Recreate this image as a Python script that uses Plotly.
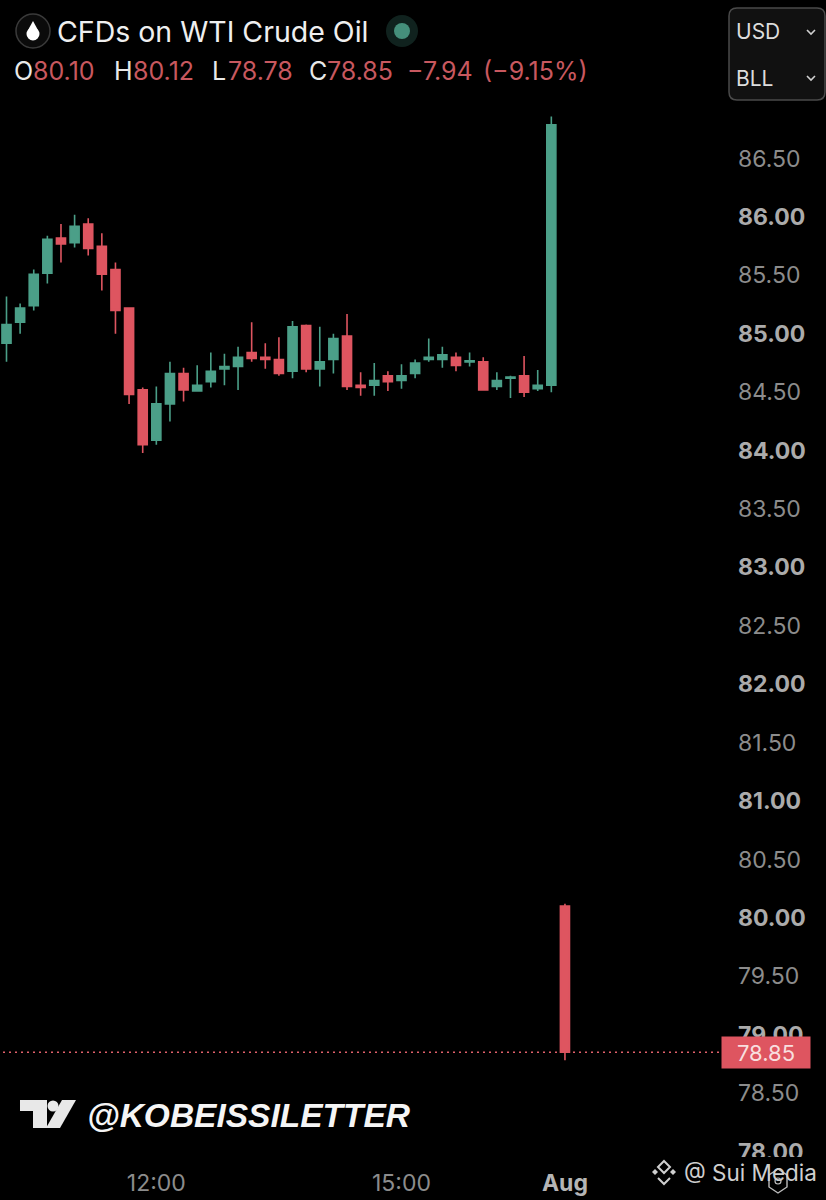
import plotly.graph_objects as go

W, H = 826, 1200
PLOT_R, PLOT_B = 722, 1165

idx = list(range(42))
opens = [84.92,85.10,85.24,85.52,85.82,85.78,85.94,85.75,85.55,85.22,84.52,84.09,84.40,84.66,84.51,84.59,84.70,84.72,84.84,84.80,84.78,84.68,85.07,84.70,84.78,84.98,84.56,84.56,84.64,84.60,84.66,84.78,84.78,84.80,84.76,84.76,84.55,84.62,84.64,84.53,84.56,80.10]
highs = [85.32,85.26,85.55,85.84,85.94,86.02,85.99,85.86,85.61,85.22,84.54,84.55,84.76,84.71,84.73,84.84,84.83,84.89,85.10,84.92,84.97,85.11,85.08,85.06,85.00,85.17,84.67,84.75,84.68,84.74,84.78,84.96,84.89,84.84,84.84,84.80,84.67,84.64,84.81,84.69,86.86,80.12]
lows = [84.76,85.00,85.20,85.43,85.61,85.74,85.67,85.37,85.00,84.40,83.98,84.05,84.25,84.42,84.51,84.54,84.56,84.52,84.76,84.70,84.64,84.62,84.67,84.55,84.66,84.52,84.47,84.47,84.51,84.53,84.62,84.76,84.71,84.68,84.72,84.52,84.52,84.45,84.46,84.51,84.50,78.78]
closes = [85.08,85.22,85.51,85.81,85.77,85.92,85.73,85.51,85.20,84.48,84.05,84.40,84.66,84.52,84.56,84.68,84.72,84.80,84.79,84.78,84.66,85.06,84.70,84.76,84.96,84.55,84.54,84.60,84.59,84.64,84.75,84.80,84.82,84.73,84.77,84.52,84.60,84.63,84.50,84.56,86.79,78.85]

price_ticks = [86.5,86,85.5,85,84.5,84,83.5,83,82.5,82,81.5,81,80.5,80,79.5,79,78.5,78]
time_ticks = [11, 29, 41]
time_labels = ["12:00", "15:00", '<b><span style="color:#b5b5b5">Aug</span></b>']
last_price = 78.85

GREEN, RED = "#4b9f88", "#de5560"
HEADER_RED = "#c8585f"
AXIS_GREY, AXIS_BOLD = "#8c8c8c", "#ababab"
FONT = "Inter, 'Liberation Sans', sans-serif"

def px(x): return x / PLOT_R
def py(y): return 1 - y / PLOT_B

def label(x, y, text, size, color, anchor="left", font=FONT, **kw):
    return dict(x=px(x), y=py(y), xref="paper", yref="paper", text=text, showarrow=False,
                xanchor=anchor, yanchor="middle", font=dict(size=size, color=color, family=font), **kw)

def circle(cx, cy, r, fill, line="rgba(0,0,0,0)", lw=0):
    return dict(type="circle", xref="paper", yref="paper", x0=px(cx-r), x1=px(cx+r), y0=py(cy+r), y1=py(cy-r),
                fillcolor=fill, line=dict(color=line, width=lw), layer="above")

def path(points, fill=None, line=None, lw=0, close=True):
    d = "M " + " L ".join(f"{px(a):.5f},{py(b):.5f}" for a, b in points) + (" Z" if close else "")
    return dict(type="path", xref="paper", yref="paper", path=d, fillcolor=fill or "rgba(0,0,0,0)",
                line=dict(color=line or "rgba(0,0,0,0)", width=lw), layer="above")

def rect(x0, y0, x1, y1, fill):
    return dict(type="rect", xref="paper", yref="paper", x0=px(x0), x1=px(x1), y0=py(y1), y1=py(y0),
                fillcolor=fill, line=dict(width=0), layer="above")

def rounded(x0, y0, x1, y1, r, fill, line, lw):
    def p(a, b): return f"{px(a):.5f},{py(b):.5f}"
    d = (f"M {p(x0+r,y0)} L {p(x1-r,y0)} Q {p(x1,y0)} {p(x1,y0+r)} L {p(x1,y1-r)} Q {p(x1,y1)} {p(x1-r,y1)} "
         f"L {p(x0+r,y1)} Q {p(x0,y1)} {p(x0,y1-r)} L {p(x0,y0+r)} Q {p(x0,y0)} {p(x0+r,y0)} Z")
    return dict(type="path", xref="paper", yref="paper", path=d, fillcolor=fill,
                line=dict(color=line, width=lw), layer="above")

fig = go.Figure(go.Candlestick(
    x=idx, open=opens, high=highs, low=lows, close=closes, whiskerwidth=0,
    increasing=dict(line=dict(color=GREEN, width=1.6), fillcolor=GREEN),
    decreasing=dict(line=dict(color=RED, width=1.6), fillcolor=RED),
    showlegend=False, hoverinfo="skip"))

def tick_text(v):
    if float(v).is_integer():
        return f'<b><span style="color:{AXIS_BOLD}">{v:.2f}</span></b>'
    return f"{v:.2f}"

shapes = [
    dict(type="line", xref="paper", yref="y", x0=px(3), x1=1, y0=last_price, y1=last_price,
         line=dict(color="#e0606a", width=1.5, dash="2px,4px"), layer="below"),
    rect(722, 1157, 826, 1166, "#000000"),
    # drop icon
    circle(33, 31, 17, "#0b0b0b", "#3a3a3a", 1.5),
    circle(33, 34, 6.5, "#ffffff"),
    path([(33, 21), (27.5, 31), (38.5, 31)], fill="#ffffff"),
    # status dot
    circle(402, 31, 16, "#10221e"),
    circle(402, 31, 8, "#458f7b"),
    # currency / unit box
    rounded(729, 8, 825, 100, 8, "#111111", "#4a4a4a", 1.5),
    path([(807, 30), (811, 34), (815, 30)], line="#d0d0d0", lw=1.6, close=False),
    path([(807, 76), (811, 80), (815, 76)], line="#d0d0d0", lw=1.6, close=False),
    # chart-brand logo
    path([(20, 1100), (47, 1100), (47, 1128), (33, 1128), (33, 1111), (20, 1111)], fill="#e8e8e8"),
    circle(53, 1106, 5.5, "#e8e8e8"),
    path([(62, 1100), (76, 1100), (60, 1128), (46, 1128)], fill="#e8e8e8"),
    # media-mark
    path([(664, 1161), (670, 1167), (664, 1173), (658, 1167)], line="#cfcfcf", lw=2),
    path([(652, 1172), (655, 1169), (658, 1172), (655, 1175)], fill="#cfcfcf"),
    path([(670, 1172), (673, 1169), (676, 1172), (673, 1175)], fill="#cfcfcf"),
    path([(658, 1178), (664, 1184), (670, 1178)], line="#cfcfcf", lw=2, close=False),
    path([(778, 1169), (787, 1175), (787, 1187), (778, 1193), (769, 1187), (769, 1175)], line="#bdbdbd", lw=1.4),
    circle(778, 1181, 3, "rgba(0,0,0,0)", "#bdbdbd", 1.2),
]

header = [(12,"O","#e8e8e8"),(31,"80.10",HEADER_RED),(112,"H","#e8e8e8"),(131,"80.12",HEADER_RED),(210,"L","#e8e8e8"),
          (226,"78.78",HEADER_RED),(307,"C","#e8e8e8"),(325,"78.85",HEADER_RED),(405,"−7.94",HEADER_RED),(481,"(−9.15%)",HEADER_RED)]

annotations = [label(55, 31, "CFDs on WTI Crude Oil", 28.5, "#efefef"),
               label(734, 32, "USD", 21, "#dddddd"),
               label(734, 78, "BLL", 21, "#dddddd"),
               label(85, 1115, "<b><i>@KOBEISSILETTER</i></b>", 33.5, "#f5f5f5", font="'Liberation Sans', sans-serif"),
               label(682, 1172, "@ Sui Media", 22.5, "#cfcfcf"),
               label(766, 1052.5, "78.85", 22, "#f8dede", anchor="center", bgcolor=RED, width=86, height=29)]
annotations += [label(x, 71, t, 25, c) for x, t, c in header]

fig.update_layout(
    width=W, height=H, autosize=False,
    paper_bgcolor="#000000", plot_bgcolor="#000000",
    margin=dict(l=0, r=W - PLOT_R, t=0, b=H - PLOT_B, pad=0),
    font=dict(family=FONT, color=AXIS_GREY, size=23),
    xaxis=dict(range=[-0.477, 52.53], rangeslider=dict(visible=False), showgrid=False, zeroline=False,
               showline=False, tickmode="array", tickvals=time_ticks, ticktext=time_labels,
               ticks="", tickfont=dict(size=23, color=AXIS_GREY), ticklabelstandoff=2),
    yaxis=dict(range=[77.884, 87.858], side="right", showgrid=False, zeroline=False, showline=False,
               tickmode="array", tickvals=price_ticks, ticktext=[tick_text(v) for v in price_ticks],
               ticks="", tickfont=dict(size=23, color=AXIS_GREY), ticklabelstandoff=15),
    boxgap=0.05, shapes=shapes, annotations=annotations)

fig.write_html("out.html", config=dict(displayModeBar=False),
               post_script="document.body.style.margin='0';document.body.style.background='#000';document.documentElement.style.overflow='hidden';")
